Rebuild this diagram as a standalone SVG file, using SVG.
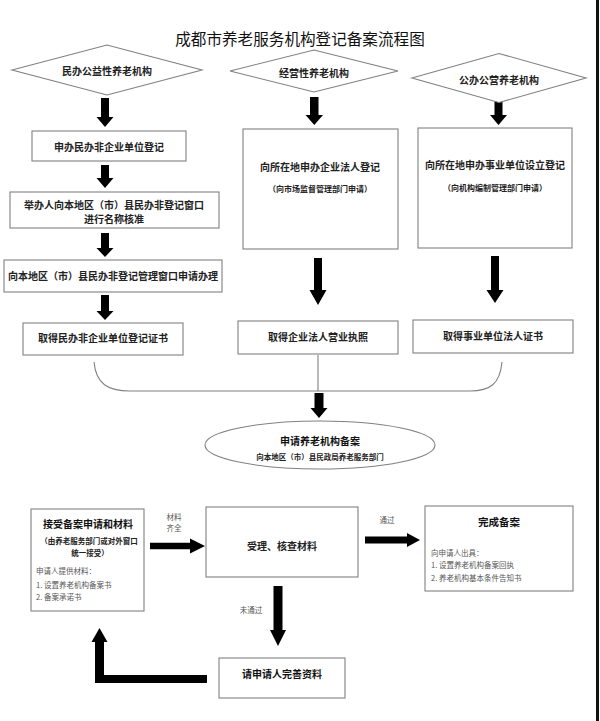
<svg xmlns="http://www.w3.org/2000/svg" width="600" height="721" viewBox="0 0 600 721">
<style>
.bx{fill:#fff;stroke:#808080;stroke-width:1.1}
.t{font-family:"Noto Sans CJK SC","Noto Sans",sans-serif;fill:#222;text-anchor:middle;dominant-baseline:central}
.m{font-size:10px;font-weight:600}
.b{font-size:10px;font-weight:bold;fill:#111}
.s{font-size:8px;font-weight:600}
.n{font-family:"Noto Sans CJK SC","Noto Sans",sans-serif;fill:#555;font-size:7.5px;dominant-baseline:central}
.ar{fill:#000}
.ln{fill:none;stroke:#808080;stroke-width:1.1}
</style>
<rect width="600" height="721" fill="#fff"/>
<text class="t" x="300" y="38" style="font-size:15.6px;fill:#111">成都市养老服务机构登记备案流程图</text>

<g id="connectors">
<polygon class="ar" points="101,98 109,98 109,117 113.5,117 105,127 96.5,117 101,117"/>
<polygon class="ar" points="101,165 109,165 109,178 113.5,178 105,188 96.5,178 101,178"/>
<polygon class="ar" points="101,233 109,233 109,248 113.5,248 105,257 96.5,248 101,248"/>
<polygon class="ar" points="101,295 109,295 109,311 113.5,311 105,320 96.5,311 101,311"/>
<polygon class="ar" points="310,97 318.5,97 318.5,115 323,115 314.3,125 305.5,115 310,115"/>
<polygon class="ar" points="314,258 322,258 322,290 326.5,290 318,305 309.5,290 314,290"/>
<polygon class="ar" points="494.5,100 502.5,100 502.5,115 507,115 498.5,125 490,115 494.5,115"/>
<polygon class="ar" points="491,256 499,256 499,290 503.5,290 495,303 486.5,290 491,290"/>
<path class="ln" d="M94,362 C96,384 108,391 130,391 L470,391 C490,391 500,384 502,362"/>
<line class="ln" x1="318" y1="355" x2="318" y2="391"/>
<polygon class="ar" points="314.5,393 323.5,393 323.5,408 327.5,408 319,418 310.5,408 314.5,408"/>
<polygon class="ar" points="150,542.7 190,542.7 190,538.5 205,546 190,553.5 190,549.3 150,549.3"/>
<polygon class="ar" points="365,536.5 407,536.5 407,533 420,540 407,547 407,543.5 365,543.5"/>
<polygon class="ar" points="273.5,586 282.5,586 282.5,630 286,630 278,646 270,630 273.5,630"/>
<polygon class="ar" points="207,675 104,675 104,642 107.5,642 99.5,628 91.5,642 95,642 95,683 207,683"/>
<text class="n" x="174" y="516" text-anchor="middle">材料</text>
<text class="n" x="174" y="527" text-anchor="middle">齐全</text>
<text class="n" x="387" y="519" text-anchor="middle">通过</text>
<text class="n" x="251" y="609" text-anchor="middle">未通过</text>
</g>

<g id="d1">
<polygon class="bx" points="12,70 107,45 202,70 107,95"/>
<text class="t m" x="107" y="70">民办公益性养老机构</text>
</g>
<g id="d2">
<polygon class="bx" points="230,71 314,50 398,71 314,92"/>
<text class="t m" x="314" y="72">经营性养老机构</text>
</g>
<g id="d3">
<polygon class="bx" points="412,78 499,53.5 586,78 499,102.5"/>
<text class="t m" x="499" y="79">公办公营养老机构</text>
</g>

<g id="l1">
<rect class="bx" x="32" y="131" width="154" height="30"/>
<text class="t m" x="109" y="146">申办民办非企业单位登记</text>
</g>
<g id="l2">
<rect class="bx" x="10" y="192" width="209" height="36"/>
<text class="t m" x="114" y="204">举办人向本地区（市）县民办非登记窗口</text>
<text class="t m" x="114" y="218">进行名称核准</text>
</g>
<g id="l3">
<rect class="bx" x="4" y="260" width="218" height="32"/>
<text class="t m" x="113" y="275">向本地区（市）县民办非登记管理窗口申请办理</text>
</g>
<g id="l4">
<rect class="bx" x="23" y="323" width="160" height="32"/>
<text class="t m" x="103" y="337">取得民办非企业单位登记证书</text>
</g>

<g id="m1">
<rect class="bx" x="243" y="129" width="155" height="120"/>
<text class="t m" x="320" y="166">向所在地申办企业法人登记</text>
<text class="t s" x="320" y="188">（向市场监督管理部门申请）</text>
</g>
<g id="m2">
<rect class="bx" x="238" y="321" width="160" height="33"/>
<text class="t m" x="318" y="336">取得企业法人营业执照</text>
</g>

<g id="r1">
<rect class="bx" x="418" y="128" width="154" height="120"/>
<text class="t m" x="495" y="164">向所在地申办事业单位设立登记</text>
<text class="t s" x="495" y="187">（向机构编制管理部门申请）</text>
</g>
<g id="r2">
<rect class="bx" x="413" y="320" width="160" height="33"/>
<text class="t m" x="493" y="335">取得事业单位法人证书</text>
</g>

<g id="e1">
<ellipse class="bx" cx="320" cy="445" rx="115" ry="24"/>
<text class="t b" x="320" y="440">申请养老机构备案</text>
<text class="t" x="320" y="456" style="font-size:7.5px;font-weight:600">向本地区（市）县民政局养老服务部门</text>
</g>

<g id="b1">
<rect class="bx" x="31" y="509" width="113" height="102"/>
<text class="t b" x="88" y="523">接受备案申请和材料</text>
<text class="t" x="89" y="540" style="font-size:7.5px;font-weight:600">（由养老服务部门或对外窗口</text>
<text class="t" x="90" y="552" style="font-size:7.5px;font-weight:600">统一接受）</text>
<text class="n" x="36" y="570">申请人提供材料：</text>
<text class="n" x="36" y="584">1. 设置养老机构备案书</text>
<text class="n" x="36" y="596">2. 备案承诺书</text>
</g>
<g id="b2">
<rect class="bx" x="206" y="507" width="152" height="70"/>
<text class="t m" x="282" y="545">受理、核查材料</text>
</g>
<g id="b3">
<rect class="bx" x="425" y="506" width="148" height="85"/>
<text class="t b" x="499" y="521" style="font-size:10.5px">完成备案</text>
<text class="n" x="431" y="552">向申请人出具：</text>
<text class="n" x="431" y="564">1. 设置养老机构备案回执</text>
<text class="n" x="431" y="577">2. 养老机构基本条件告知书</text>
</g>
<g id="b4">
<rect class="bx" x="219" y="658" width="126" height="40"/>
<text class="t b" x="282" y="673">请申请人完善资料</text>
</g>

<rect x="596" y="0" width="3" height="721" fill="#111"/>
</svg>
